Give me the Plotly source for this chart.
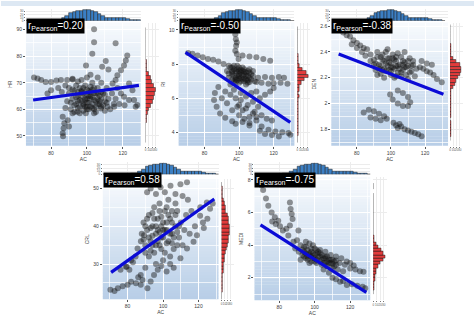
import plotly.graph_objects as go

W, H = 474, 324

# ---------------------------------------------------------------- data
# AC distribution (shared marginal on top of every panel)
ac_bins = [67, 69, 71, 73, 75, 77, 79, 81, 83, 85, 87, 89, 91, 93, 95, 97, 99,
           101, 103, 105, 107, 109, 111, 113, 115, 117, 119, 121, 123, 125, 127, 129, 131]
ac_counts = [0.5, 0.5, 1, 1, 1, 1, 1, 1, 2, 4, 8, 16, 24, 28, 31, 33, 35,
             35, 33, 28, 22, 15, 10, 8, 8, 9, 9, 8, 6, 4, 3, 2, 1]

# Panel 1: AC vs HR
p1_ac = [104, 104, 116, 103, 99.5, 108.5,
         122.5, 121.7, 120.7, 119, 117, 116, 114.3, 112, 110.5,
         70.5, 72.5, 74.5, 77, 80, 83, 85.5, 89, 92, 95,
         80, 78, 84, 86, 88, 90,
         90, 92, 93, 94, 95, 96, 97, 98, 99, 99, 100, 101, 101, 102, 103, 103, 104, 105, 105, 106,
         107, 108, 108, 109, 110, 111, 112, 113, 114, 115, 91, 93, 96, 97, 100, 102, 106, 94, 92, 98,
         104, 110, 89, 88, 95, 100, 102, 106, 108, 97,
         123.5, 125.4, 126.3, 127.2, 128.1, 123.5, 120.7, 119, 117, 118, 121, 116,
         86.5, 87.4, 87, 86.5, 86.7, 89.3, 92, 94.8, 99.4, 107.8, 111.5, 115.2, 90]
p1_hr = [90.2, 85.3, 84.9, 80.9, 76.5, 76,
         80.3, 78.4, 76.5, 74.7, 72.8, 71, 69.7, 75, 78.2,
         72, 71.6, 71, 70.3, 70.3, 70.9, 71, 71, 71.2, 70.5,
         67.2, 66, 68, 66.5, 69, 68,
         66, 64, 67, 62, 65, 68, 63, 66, 61, 69, 64, 67, 60, 65, 62, 70, 66, 63, 59, 68,
         65, 61, 70, 66, 63, 68, 64, 60, 66, 62, 60, 59, 58.5, 71, 72, 73, 72, 69, 71.5, 59.5,
         58.5, 59.5, 63, 60.5, 66.5, 62.5, 68.5, 66, 64, 65,
         69.7, 67.2, 63.5, 61, 61.6, 63.5, 64.7, 66, 68, 62, 61.5, 64,
         57.2, 54.7, 52.9, 51, 49.8, 55.9, 58.5, 59.1, 58.5, 60.3, 61, 61, 53.5]
p1_core_ac = [91, 92, 94, 95, 96, 97, 98, 99, 100, 100, 101, 102, 102, 103, 104, 104, 105, 106,
              107, 108, 109, 110, 96, 98, 100, 102, 104, 99, 101, 103, 97, 95, 93, 105, 107, 111,
              100, 98, 103, 106]
p1_core_hr = [62.5, 67.5, 64.5, 60.5, 63.5, 66.5, 61.5, 64, 67.5, 60, 62.5, 64, 66.5, 60.5, 63.5,
              68, 61, 64, 62, 66.5, 61.5, 65.5, 61, 62, 65.5, 61, 60, 63.5, 65, 64.5, 67, 63,
              61.5, 66, 63, 62.5, 61, 68, 67.5, 62]
p1_fit_ac = [70, 129]
p1_fit_hr = [63.5, 69.0]
p1_hr_bins = [48, 49.5, 51, 52.5, 54, 55.5, 57, 58.5, 60, 61.5, 63, 64.5, 66, 67.5, 69,
              70.5, 72, 73.5, 75, 76.5, 78, 79.5, 81, 82.5, 84, 85.5, 87, 88.5, 90]
p1_hr_counts = [1, 1, 1, 1, 1, 2, 3, 6, 10, 16, 22, 24, 28, 30, 26,
                20, 14, 8, 4, 2, 2, 1, 1, 1, 1, 1, 1, 0.5, 1]

# Panel 2: AC vs RI
p2_ac = [97.8, 98.1, 98.7, 98.3, 97.8, 98.7, 99.7,
         70.5, 73, 76, 79, 82, 85, 88, 91, 94, 96,
         102, 106, 110, 114, 118,
         93, 94, 95, 96, 97, 98, 99, 100, 100, 101, 102, 103, 104, 105, 106, 107, 108, 109,
         95, 97, 99, 101, 103, 105, 98, 102, 104, 96, 100, 106,
         110, 113, 117, 120, 124, 128, 111, 115, 119, 123, 126,
         88, 86, 85.5, 87, 89, 92, 96, 98,
         95, 98, 101, 104, 107, 110, 99, 102, 105, 108, 112, 115, 118, 120, 93, 96, 100, 103,
         106, 109, 111, 113, 116, 119, 110, 106, 101, 97, 92, 90,
         113, 117, 121, 125, 128.6, 129.6, 115, 119, 123, 112]
p2_ri = [9.75, 9.46, 9.27, 9.07, 8.78, 8.59, 8.3,
         8.65, 8.6, 8.5, 8.4, 8.3, 8.25, 8.15, 8.0, 7.9, 7.8,
         8.5, 8.45, 8.4, 8.3, 8.2,
         7.6, 7.2, 7.8, 7.4, 7.0, 7.6, 7.3, 7.8, 6.9, 7.5, 7.1, 7.7, 7.3, 6.9, 7.5, 7.1, 7.6, 7.0,
         6.8, 7.7, 7.9, 7.0, 7.4, 7.6, 7.2, 7.6, 6.8, 7.1, 7.3, 7.2,
         6.95, 6.9, 6.85, 6.88, 6.9, 6.85, 7.2, 7.25, 7.2, 7.25, 7.2,
         6.66, 6.3, 5.9, 5.5, 5.1, 4.85, 4.65, 4.5,
         6.2, 6.0, 5.9, 6.1, 6.3, 6.4, 5.5, 5.3, 5.6, 5.8, 6.0, 6.2, 6.4, 6.6, 5.7, 5.3, 5.0, 4.8,
         4.9, 5.2, 5.5, 5.0, 4.8, 4.7, 4.7, 4.4, 6.3, 6.5, 6.4, 6.0,
         4.34, 4.15, 4.05, 4.0, 3.96, 3.86, 3.9, 3.85, 3.75, 4.1]
p2_core_ac = [96, 97, 98, 99, 100, 101, 102, 103, 104, 105, 106, 107, 97, 99, 101, 103, 105, 98,
              100, 102, 104, 96, 100, 106, 108, 94, 99, 103, 100, 104, 108, 102, 106, 110]
p2_core_ri = [7.5, 7.3, 7.1, 7.7, 7.4, 7.2, 7.8, 7.0, 7.5, 7.3, 7.7, 7.4, 7.9, 7.55, 7.65, 7.15,
              7.05, 6.95, 7.15, 7.35, 7.1, 7.6, 7.6, 6.95, 7.3, 7.45, 7.05, 7.55, 5.6, 5.4, 5.1,
              4.6, 4.55, 4.9]
p2_fit_ac = [69, 129.6]
p2_fit_ri = [8.69, 4.58]
p2_ri_bins = [3.5, 3.7, 3.9, 4.1, 4.3, 4.5, 4.7, 4.9, 5.1, 5.3, 5.5, 5.7, 5.9, 6.1, 6.3, 6.5,
              6.7, 6.9, 7.1, 7.3, 7.5, 7.7, 7.9, 8.1, 8.3, 8.5, 8.7, 8.9, 9.1, 9.3, 9.5, 9.7,
              9.9, 10.1]
p2_ri_counts = [1, 1, 2, 3, 3, 3, 4, 3, 4, 3, 3, 4, 4, 5, 4, 5,
                7, 12, 22, 35, 28, 15, 6, 3, 2, 2, 1, 1, 1, 1, 1, 1,
                1, 1]

# Panel 3: AC vs DEN
p3_ac = [70.2, 72, 74, 76, 78, 80, 82, 84, 86,
         77, 80, 83, 85, 88, 90, 91, 92,
         88, 90, 92, 93, 94, 95, 96, 97, 98, 99, 100, 100, 101, 102, 103, 104, 105, 106, 107, 108,
         109, 110, 111, 112, 113, 114, 115, 96, 98, 102, 106, 94, 104, 108, 110, 100, 97, 103,
         117, 119, 121, 123, 125, 127, 129.8, 118, 121, 124,
         99.5, 101, 104, 107, 110, 111.3, 110, 107, 104,
         84, 87, 90, 93, 96, 97.5, 94, 91, 88,
         101.5, 103, 105, 104, 106, 108, 110, 112, 114, 116, 118]
p3_den = [2.57, 2.55, 2.53, 2.52, 2.49, 2.47, 2.45, 2.43, 2.42,
          2.46, 2.43, 2.40, 2.37, 2.33, 2.30, 2.26, 2.22,
          2.38, 2.34, 2.40, 2.30, 2.36, 2.26, 2.33, 2.40, 2.29, 2.35, 2.22, 2.31, 2.38, 2.27, 2.33,
          2.24, 2.30, 2.36, 2.26, 2.32, 2.22, 2.29, 2.35, 2.25, 2.30, 2.21, 2.27, 2.20, 2.42, 2.20,
          2.21, 2.23, 2.39, 2.40, 2.19, 2.28, 2.31, 2.29,
          2.28, 2.27, 2.25, 2.24, 2.22, 2.19, 2.165, 2.33, 2.31, 2.30,
          2.07, 2.03, 2.0, 1.98, 1.98, 2.01, 2.05, 2.08, 2.1,
          1.93, 1.95, 1.94, 1.92, 1.9, 1.88, 1.87, 1.88, 1.89,
          1.85, 1.83, 1.84, 1.81, 1.82, 1.8, 1.79, 1.78, 1.77, 1.76, 1.745]
p3_core_ac = [91, 93, 95, 97, 99, 101, 103, 105, 107, 109, 111, 113, 92, 94, 96, 98, 100, 102,
              104, 106, 108, 110, 112, 95, 99, 103, 107, 101]
p3_core_den = [2.31, 2.27, 2.34, 2.25, 2.32, 2.28, 2.36, 2.27, 2.33, 2.28, 2.24, 2.33, 2.36,
               2.29, 2.27, 2.35, 2.25, 2.34, 2.29, 2.24, 2.28, 2.33, 2.29, 2.38, 2.26, 2.21,
               2.3, 2.35]
p3_fit_ac = [69.3, 130.8]
p3_fit_den = [2.383, 2.071]
p3_den_bins = [1.725, 1.75, 1.775, 1.8, 1.825, 1.85, 1.875, 1.9, 1.925, 1.95, 1.975, 2.0,
               2.025, 2.05, 2.075, 2.1, 2.125, 2.15, 2.175, 2.2, 2.225, 2.25, 2.275, 2.3,
               2.325, 2.35, 2.375, 2.4, 2.425, 2.45, 2.475, 2.5, 2.525, 2.55, 2.575, 2.6]
p3_den_counts = [1, 2, 3, 4, 3, 2, 1, 2, 2, 2, 2, 2,
                 2, 3, 3, 4, 8, 14, 20, 26, 30, 34, 35, 32,
                 18, 8, 4, 3, 2, 2, 1, 1, 1, 1, 1, 1]

# Panel 4: AC vs CRL
p4_ac = [70.3, 72.6, 74.5, 77.2, 80, 82, 84.7, 87.4, 88.4, 87.4, 86,
         79, 81, 83, 84.5, 85.6, 87.5, 89.3, 76, 79.5, 82,
         88, 89, 90, 91, 92, 93, 94, 95, 96, 97, 98, 99, 100, 101, 101, 102, 103, 104, 105, 106,
         107, 108, 109, 110, 111, 112, 113, 95, 98, 103, 107, 100, 104, 92, 96, 99, 102, 94, 97,
         105, 108,
         93, 98.6, 104.2, 109.8, 113.5, 91, 96, 101, 107, 111,
         124.7, 126.5, 128, 120.9, 122.5, 119.1, 117.2, 113.5, 109.8, 115, 118, 121, 116, 114,
         123, 125,
         94.9, 93, 91.2, 97, 99, 102, 104, 106, 90]
p4_crl = [23.2, 22.9, 23.6, 24.1, 24.5, 25.3, 24.9, 24.5, 25.8, 27.1, 26.5,
          29.3, 28.5, 30.5, 32, 34.1, 36, 37.6, 28.5, 29.3, 31,
          38, 41, 35, 39, 43, 36, 40, 33, 38, 42, 35, 40, 37, 44, 33, 39, 36, 42, 38, 34,
          40, 44, 37, 41, 35, 39, 43, 45, 46, 47, 46, 31, 32, 32, 30, 42.5, 41, 37.5, 39,
          35.5, 38.5,
          50, 50.3, 50.7, 51.1, 51.6, 49, 48.5, 49, 48.5, 48,
          46.3, 44.6, 46, 42.8, 41, 37.6, 35.9, 34.1, 31.5, 38, 40, 45, 44, 47,
          39.5, 42,
          27.1, 25.4, 23.6, 28.5, 29.5, 28, 30, 29, 29]
p4_core_ac = [89, 90, 91, 92, 93, 94, 95, 96, 97, 98, 99, 100, 101, 102, 103, 104, 105, 106,
              107, 108, 109, 90, 93, 96, 99, 102, 105, 94, 98, 100]
p4_core_crl = [36.5, 40, 42, 37, 39.5, 35, 42, 40, 36, 38.5, 37, 41, 39, 35.5, 43, 38, 41, 37,
               43, 35, 40, 33, 33.5, 35, 34, 45, 44, 43.5, 44, 39]
p4_fit_ac = [70.7, 128.9]
p4_fit_crl = [27.8, 47.2]
p4_crl_bins = list(range(21, 52))
p4_crl_counts = [1, 1, 2, 2, 3, 3, 4, 5, 6, 7, 9, 11, 14, 16, 19, 22, 25, 27, 28, 27,
                 25, 22, 19, 15, 12, 9, 6, 4, 3, 2, 1]

# Panel 5: AC vs MEDI
p5_ac = [70, 70.9, 72.5, 73.8, 75.7, 77.5, 79.4, 80.4, 78, 76,
         86, 86.4, 87, 87.5, 86, 84, 82, 85.1, 90.8,
         88, 89, 90, 91, 92, 93, 94, 95, 96, 97, 98, 99, 100, 101, 102, 103, 104, 105, 106, 107,
         108, 109, 110, 111, 112, 113, 114, 115, 116, 117, 118, 92, 95, 97, 100, 103, 106, 94,
         98, 101, 105, 109, 112, 96, 99,
         120, 123, 125.5, 127.5, 128.5, 127, 120, 122,
         114.3, 118.1, 121, 124, 110, 112, 116, 108]
p5_medi = [7.68, 7.39, 6.86, 6.42, 6.01, 5.71, 5.5, 5.16, 5.3, 5.45,
           6.62, 6.21, 5.91, 5.6, 5.2, 5.0, 4.9, 4.59, 4.9,
           4.2, 3.8, 4.3, 3.6, 4.0, 3.4, 3.9, 3.2, 3.7, 4.1, 3.0, 3.5, 3.8, 2.9, 3.3, 3.7, 2.8,
           3.2, 3.6, 2.7, 3.1, 3.4, 2.6, 3.0, 3.3, 2.5, 2.9, 3.2, 2.4, 2.8, 3.0, 3.1, 4.2, 2.9,
           3.2, 3.0, 2.9, 3.6, 3.8, 3.5, 2.5, 2.9, 2.8, 3.3, 4.0,
           2.56, 2.5, 2.4, 2.36, 1.35, 1.45, 2.9, 2.75,
           1.75, 1.55, 1.6, 1.5, 2.0, 1.9, 1.8, 2.3]
p5_core_ac = [93, 94, 95, 96, 97, 98, 99, 100, 101, 102, 103, 104, 105, 106, 107, 108, 109, 110,
              111, 112, 95, 98, 101, 104, 107, 110, 97, 100, 103, 106]
p5_core_medi = [3.7, 3.3, 3.5, 3.1, 3.4, 3.6, 3.2, 3.4, 3.1, 3.6, 3.3, 3.1, 2.9, 3.3, 3.0, 2.9,
                3.1, 2.85, 2.7, 3.05, 3.9, 3.3, 3.7, 3.4, 3.3, 3.1, 3.5, 3.0, 3.5, 3.2]
p5_fit_ac = [69.4, 129.1]
p5_fit_medi = [5.24, 1.1]
p5_medi_bins = [1.1, 1.3, 1.5, 1.7, 1.9, 2.1, 2.3, 2.5, 2.7, 2.9, 3.1, 3.3, 3.5, 3.7, 3.9,
                4.1, 4.3, 4.5, 4.7, 4.9, 5.1, 5.3, 5.5, 5.7, 5.9, 6.1, 6.3, 6.5, 6.7, 6.9,
                7.1, 7.5, 7.7]
p5_medi_counts = [1, 2, 3, 4, 5, 6, 8, 10, 14, 20, 28, 35, 30, 22, 14,
                  8, 4, 2, 1, 1, 1, 1, 1, 1, 1, 1, 1, 1, 1, 1,
                  1, 1, 1]

r_values = [0.20, -0.50, -0.38, 0.58, -0.75]
y_titles = ["HR", "RI", "DEN", "CRL", "MEDI"]
count_ticks = [0, 10, 20, 30]
count_labels = ["0", "10", "20", "30"]

# ---------------------------------------------------------------- layout geometry (pixels)
panels = [
    dict(x=p1_ac + p1_core_ac, y=p1_hr + p1_core_hr, fx=p1_fit_ac, fy=p1_fit_hr,
         hb=p1_hr_bins, hc=p1_hr_counts, hw=1.5,
         main=(25, 140, 22, 146), top=(8, 20), right=(145, 158),
         xr=[66, 130], yr=[46.3, 92.6], ydt=10, label_y=0.976),
    dict(x=p2_ac + p2_core_ac, y=p2_ri + p2_core_ri, fx=p2_fit_ac, fy=p2_fit_ri,
         hb=p2_ri_bins, hc=p2_ri_counts, hw=0.2,
         main=(178, 294, 22, 146), top=(8, 20), right=(297, 310),
         xr=[65, 132], yr=[3.22, 10.42], ydt=2, label_y=0.976),
    dict(x=p3_ac + p3_core_ac, y=p3_den + p3_core_den, fx=p3_fit_ac, fy=p3_fit_den,
         hb=p3_den_bins, hc=p3_den_counts, hw=0.025,
         main=(331, 448, 22, 146), top=(8, 20), right=(450, 463),
         xr=[65, 133.5], yr=[1.672, 2.626], ydt=0.2, label_y=0.976),
    dict(x=p4_ac + p4_core_ac, y=p4_crl + p4_core_crl, fx=p4_fit_ac, fy=p4_fit_crl,
         hb=p4_crl_bins, hc=p4_crl_counts, hw=1,
         main=(102, 218, 180, 301), top=(163, 175), right=(221, 233),
         xr=[66, 131.3], yr=[20.7, 52.4], ydt=10, label_y=0.996),
    dict(x=p5_ac + p5_core_ac, y=p5_medi + p5_core_medi, fx=p5_fit_ac, fy=p5_fit_medi,
         hb=p5_medi_bins, hc=p5_medi_counts, hw=0.2,
         main=(254, 370, 178, 302), top=(163, 175), right=(373, 387),
         xr=[66, 131.3], yr=[0.62, 8.16], ydt=2, label_y=0.976),
]


def fx(px):
    return px / W


def fy(py):
    return 1 - py / H


BG_BOTTOM = (184, 206, 231)
BG_TOP = (247, 250, 253)
TICK_FONT = dict(family="Liberation Sans", size=5, color="#3a3a3a")
TINY_FONT = dict(family="Liberation Sans", size=3, color="#555")

fig = go.Figure()
layout = dict(width=W, height=H, margin=dict(l=0, r=0, t=0, b=0),
              paper_bgcolor="white", plot_bgcolor="white", showlegend=False,
              bargap=0, shapes=[], annotations=[])


def ax_name(prefix, n):
    return prefix if n == 1 else f"{prefix}{n}"


for k, p in enumerate(panels):
    nm, nt, nr = 3 * k + 1, 3 * k + 2, 3 * k + 3
    x0, x1, y0, y1 = p["main"]
    dx = [fx(x0), fx(x1)]
    dy = [fy(y1), fy(y0)]

    # main scatter panel
    layout[ax_name("xaxis", nm)] = dict(
        domain=dx, anchor=ax_name("y", nm), range=p["xr"], tick0=0, dtick=20,
        showgrid=True, gridcolor="white", gridwidth=1,
        minor=dict(dtick=10, showgrid=True, gridcolor="rgba(255,255,255,0.7)", gridwidth=0.5),
        zeroline=False, ticks="outside", ticklen=2, tickwidth=0.6, tickcolor="#555",
        tickfont=TICK_FONT, title=dict(text="AC", font=TICK_FONT, standoff=2))
    layout[ax_name("yaxis", nm)] = dict(
        domain=dy, anchor=ax_name("x", nm), range=p["yr"], tick0=0, dtick=p["ydt"],
        showgrid=True, gridcolor="white", gridwidth=1,
        minor=dict(dtick=p["ydt"] / 2, showgrid=True, gridcolor="rgba(255,255,255,0.7)",
                   gridwidth=0.5),
        zeroline=False, ticks="outside", ticklen=2, tickwidth=0.6, tickcolor="#555",
        tickfont=TICK_FONT, title=dict(text=y_titles[k], font=TICK_FONT, standoff=3))

    # vertical white-to-blue backdrop behind the grid
    n_strips = 40
    for i in range(n_strips):
        t = i / (n_strips - 1)
        c = tuple(round(BG_BOTTOM[j] + (BG_TOP[j] - BG_BOTTOM[j]) * t) for j in range(3))
        layout["shapes"].append(dict(
            type="rect", xref=f"{ax_name('x', nm)} domain", yref=f"{ax_name('y', nm)} domain",
            x0=0, x1=1, y0=i / n_strips, y1=(i + 1) / n_strips + 0.002,
            fillcolor=f"rgb{c}", line=dict(width=0), layer="below"))

    fig.add_trace(go.Scatter(x=p["x"], y=p["y"], mode="markers",
                             xaxis=ax_name("x", nm), yaxis=ax_name("y", nm),
                             marker=dict(size=6, color="rgba(20,20,20,0.45)", line=dict(width=0)),
                             hoverinfo="skip"))
    fig.add_trace(go.Scatter(x=p["fx"], y=p["fy"], mode="lines",
                             xaxis=ax_name("x", nm), yaxis=ax_name("y", nm),
                             line=dict(color="#0b0bd6", width=3.2), hoverinfo="skip"))

    # marginal histogram of AC on top
    ty0, ty1 = p["top"]
    layout[ax_name("xaxis", nt)] = dict(
        domain=dx, anchor=ax_name("y", nt), range=p["xr"], showticklabels=False,
        showgrid=True, gridcolor="#ececec", gridwidth=0.5, zeroline=False, tick0=0, dtick=20)
    layout[ax_name("yaxis", nt)] = dict(
        domain=[fy(ty1), fy(ty0)], anchor=ax_name("x", nt), range=[0, 38],
        tickvals=count_ticks, ticktext=count_labels,
        tickfont=TINY_FONT, ticks="outside", ticklen=1, tickcolor="#777",
        showgrid=True, gridcolor="#ececec", gridwidth=0.5, zeroline=False)
    fig.add_trace(go.Bar(x=ac_bins, y=ac_counts, width=2,
                         xaxis=ax_name("x", nt), yaxis=ax_name("y", nt),
                         marker=dict(color="#3b7fc4", line=dict(color="#1c1c1c", width=0.5)),
                         hoverinfo="skip"))

    # marginal histogram of the response on the right
    rx0, rx1 = p["right"]
    layout[ax_name("xaxis", nr)] = dict(
        domain=[fx(rx0), fx(rx1)], anchor=ax_name("y", nr), range=[0, 40],
        tickvals=count_ticks, ticktext=count_labels, tickangle=0,
        tickfont=TINY_FONT, ticks="outside", ticklen=1, tickcolor="#777",
        showgrid=True, gridcolor="#ececec", gridwidth=0.5, zeroline=False)
    layout[ax_name("yaxis", nr)] = dict(
        domain=dy, anchor=ax_name("x", nr), range=p["yr"], showticklabels=False,
        showgrid=True, gridcolor="#ececec", gridwidth=0.5, zeroline=False,
        tick0=0, dtick=p["ydt"])
    fig.add_trace(go.Bar(y=p["hb"], x=p["hc"], width=p["hw"], orientation="h",
                         xaxis=ax_name("x", nr), yaxis=ax_name("y", nr),
                         marker=dict(color="#e23b3b", line=dict(color="#1c1c1c", width=0.5)),
                         hoverinfo="skip"))

    # Pearson coefficient label
    layout["annotations"].append(dict(
        xref=f"{ax_name('x', nm)} domain", yref=f"{ax_name('y', nm)} domain",
        x=0.0, y=p["label_y"], xanchor="left", yanchor="middle", showarrow=False,
        text=f"r<sub>Pearson</sub>={r_values[k]:.2f}",
        font=dict(family="Liberation Sans", size=10, color="white"),
        bgcolor="black", borderpad=1))

# thin light band across the top edge
layout["shapes"].append(dict(type="rect", xref="paper", yref="paper", x0=0, x1=1,
                             y0=fy(5), y1=1, fillcolor="#dde8f3", line=dict(width=0),
                             layer="below"))

fig.update_layout(**layout)
fig.write_html("out.html")
